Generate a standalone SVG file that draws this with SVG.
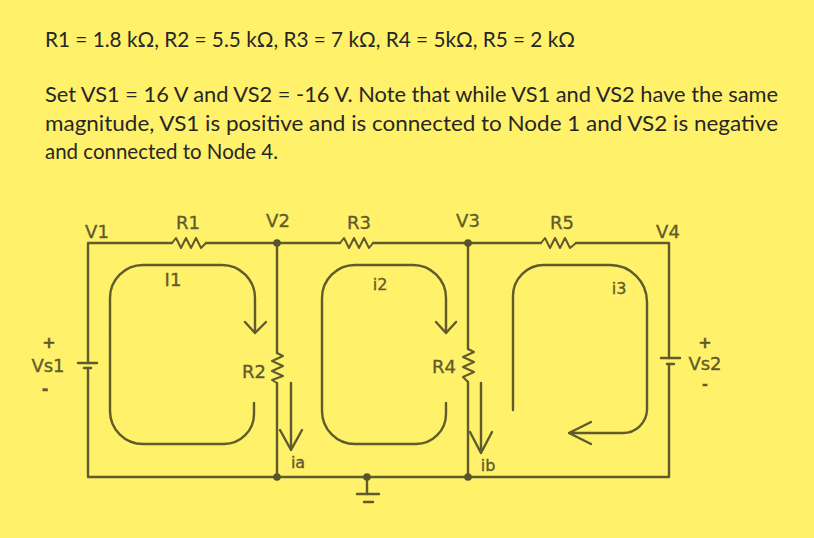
<svg xmlns="http://www.w3.org/2000/svg" width="814" height="538" viewBox="0 0 814 538">
<style>
.t{font-family:Lato,"Liberation Sans",sans-serif;font-size:21px;fill:#262626}
.l{font-family:"DejaVu Sans","Liberation Sans",sans-serif;font-size:18px;fill:#5f5b2c;stroke:#5f5b2c;stroke-width:.35;text-anchor:middle}
.s{font-size:16px}
.p{font-weight:bold;font-size:16px}
.m{font-weight:bold;font-size:14px}
.w{fill:none;stroke:#5f5b2c;stroke-width:2.4;stroke-linecap:round;stroke-linejoin:round}
.r{fill:none;stroke:#5f5b2c;stroke-width:2;stroke-linejoin:round}
.d{fill:#57532a}
</style>
<rect width="814" height="538" fill="#fff16a"/>
<g id="note">
<text class="t" x="45" y="47" textLength="530" lengthAdjust="spacingAndGlyphs">R1 = 1.8 kΩ, R2 = 5.5 kΩ, R3 = 7 kΩ, R4 = 5kΩ, R5 = 2 kΩ</text>
<text class="t" x="45" y="102" textLength="733" lengthAdjust="spacingAndGlyphs">Set VS1 = 16 V and VS2 = -16 V. Note that while VS1 and VS2 have the same</text>
<text class="t" x="45" y="131" textLength="733" lengthAdjust="spacingAndGlyphs">magnitude, VS1 is positive and is connected to Node 1 and VS2 is negative</text>
<text class="t" x="45" y="159" textLength="233" lengthAdjust="spacingAndGlyphs">and connected to Node 4.</text>
</g>
<g id="connectors">
<path class="w" d="M88 363V243H172M206 243H340M373 243H541M576 243H669V358M669 364V477H88V368"/>
<path class="w" d="M277 243V353M277 383V477M468 243V349M468 382V477"/>
<path class="w" d="M367 477V494"/>
<path class="w" d="M254 403V414A30 30 0 0 1 224 444H143A33 33 0 0 1 110 411V298A33 33 0 0 1 143 265H222A33 33 0 0 1 255 298V333M245 322L255 333L266 322"/>
<path class="w" d="M446 403V414A30 30 0 0 1 416 444H355A33 33 0 0 1 322 411V298A33 33 0 0 1 355 265H413A33 33 0 0 1 446 298V333M436 322L446 333L456 322"/>
<path class="w" d="M513 410V296A31 31 0 0 1 544 265H610A37 37 0 0 1 647 302V410A24 24 0 0 1 623 433H569M591 422L569 433L591 444"/>
<path class="w" d="M291 383V450M280 430L291 450L302 430"/>
<path class="w" d="M481 383V453M470 432L481 453L492 432"/>
</g>
<g id="R1"><path class="r" d="M172 243L176 238L181 248L186 238L191 248L196 238L201 248L206 243"/><text class="l" x="188" y="229">R1</text></g>
<g id="R2"><path class="r" d="M277 353L283 356L272 361L283 366L272 371L283 376L272 380L277 383"/><text class="l" x="254" y="378">R2</text></g>
<g id="R3"><path class="r" d="M340 243L344 238L349 248L354 238L359 248L364 238L369 248L373 243"/><text class="l" x="359" y="229">R3</text></g>
<g id="R4"><path class="r" d="M468 349L474 352L463 357L474 362L463 367L474 372L463 377L468 382"/><text class="l" x="444" y="373">R4</text></g>
<g id="R5"><path class="r" d="M541 243L545 238L550 248L555 238L560 248L565 238L570 248L576 243"/><text class="l" x="562" y="229">R5</text></g>
<g id="Vs1"><path class="w" d="M78 363H97M84 368H91"/><text class="l" x="48" y="372">Vs1</text><text class="l p" x="49" y="348">+</text><text class="l p" x="45" y="394">-</text></g>
<g id="Vs2"><path class="w" d="M661 358H680M667 364H674"/><text class="l" x="705" y="370">Vs2</text><text class="l p" x="705" y="348">+</text><text class="l m" x="705" y="389">-</text></g>
<g id="GND"><path class="w" d="M357 494H379M364 502H373"/></g>
<g id="nodes"><circle class="d" cx="277" cy="243" r="3.8"/><circle class="d" cx="468" cy="243" r="3.8"/><circle class="d" cx="277" cy="477" r="3.8"/><circle class="d" cx="367" cy="477" r="3.8"/><circle class="d" cx="468" cy="477" r="3.8"/></g>
<g id="labels">
<text class="l" x="97" y="238">V1</text>
<text class="l" x="278" y="227">V2</text>
<text class="l" x="468" y="227">V3</text>
<text class="l" x="668" y="238">V4</text>
<text class="l" x="173" y="286">I1</text>
<text class="l s" x="380" y="290">i2</text>
<text class="l s" x="619" y="294">i3</text>
<text class="l s" x="298" y="468">ia</text>
<text class="l s" x="488" y="471">ib</text>
</g>
</svg>
